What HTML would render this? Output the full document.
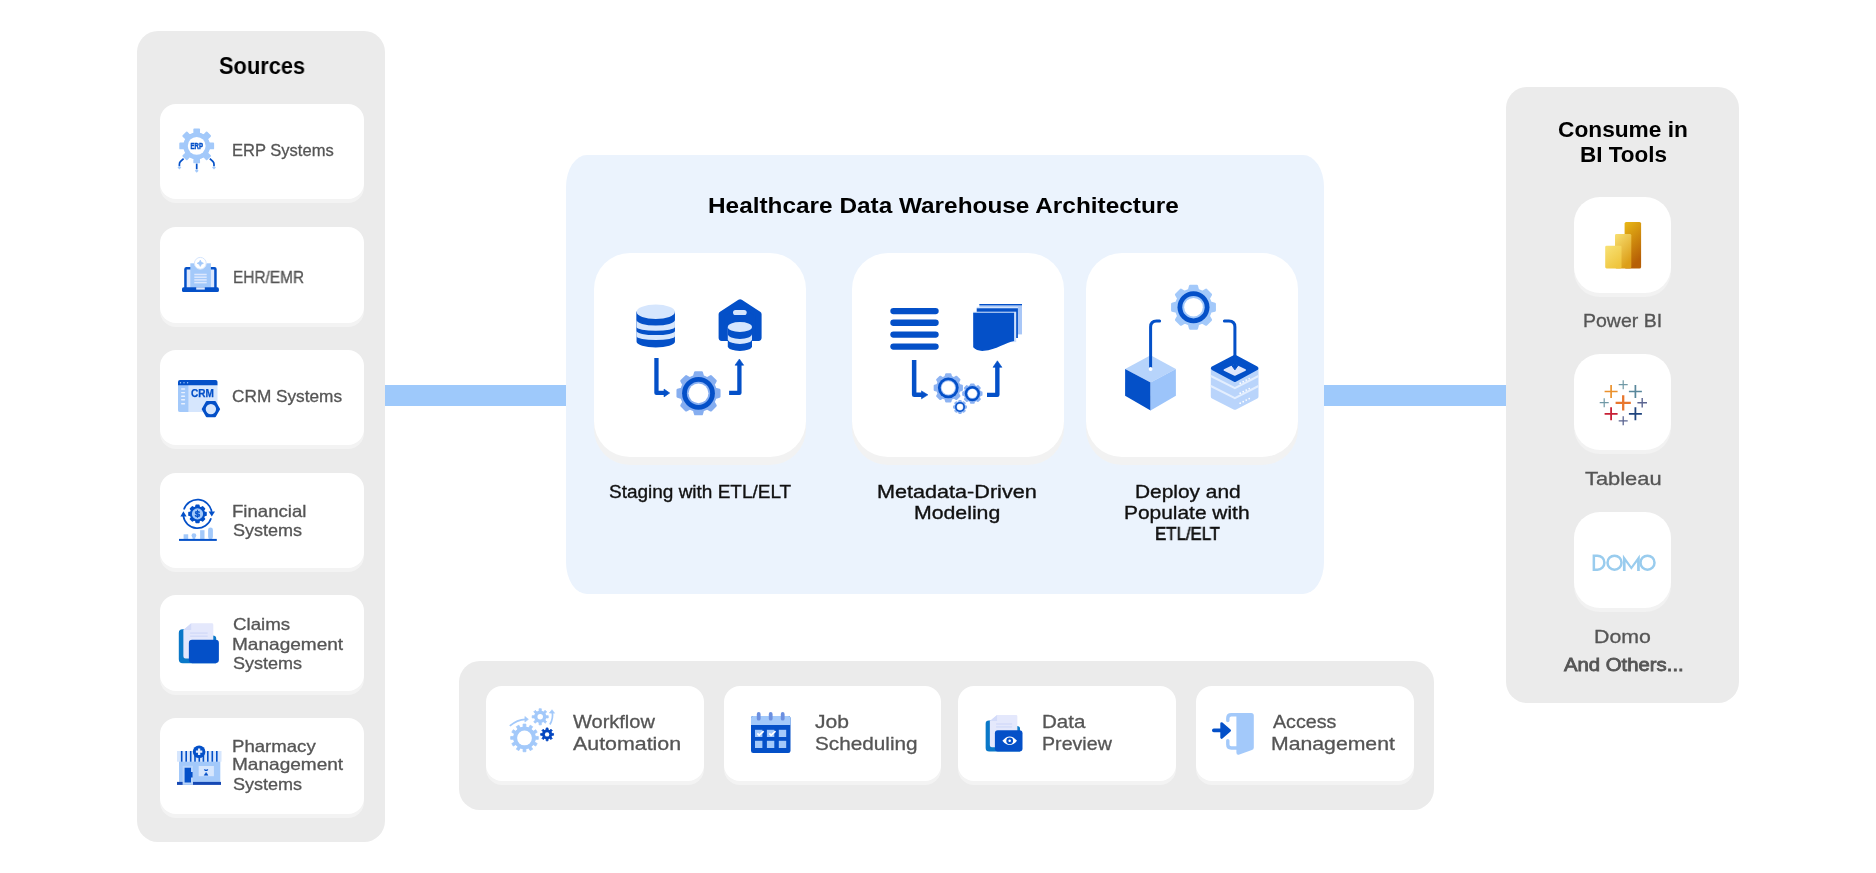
<!DOCTYPE html>
<html lang="en">
<head>
<meta charset="utf-8">
<title>Healthcare Data Warehouse Architecture</title>
<style>
  html,body{margin:0;padding:0;background:#fff;}
  body{width:1876px;height:873px;position:relative;overflow:hidden;font-family:"Liberation Sans",sans-serif;}
  .abs{position:absolute;}
  .panel{position:absolute;background:#ebebeb;border-radius:21px;}
  .card{position:absolute;background:#fff;border-radius:16px;box-shadow:0 4px 0 #f3f3f3;}
  .tile{position:absolute;background:#fff;border-radius:26px;box-shadow:0 4px 0 #f2f2f2;width:97px;height:96px;left:1574px;}
  .big{position:absolute;background:#fff;border-radius:36px;box-shadow:0 8px 0 #f2f2f2;width:212px;height:204px;top:253px;}
  .conn{position:absolute;background:#9ec9fb;height:21px;top:385px;}
  .t{position:absolute;white-space:nowrap;line-height:1;transform-origin:0 0;color:#555;will-change:transform;-webkit-text-stroke:0.3px #555;}
  .b{font-weight:bold;}
  .k{color:#000;-webkit-text-stroke:0;}
  .s{-webkit-text-stroke:0.8px #555;}
  .m{color:#111;-webkit-text-stroke:0.35px #111;}
  .x{-webkit-text-stroke-width:0.65px;}
  svg{position:absolute;overflow:visible;}
</style>
</head>
<body>

<!-- connectors -->
<div class="conn" style="left:385px;width:181px;"></div>
<div class="conn" style="left:1323px;width:184px;"></div>

<!-- left: sources panel -->
<div class="panel" style="left:137px;top:31px;width:248px;height:811px;"></div>
<div class="card" style="left:160px;top:104px;width:204px;height:95px;"></div>
<div class="card" style="left:160px;top:227px;width:204px;height:96px;"></div>
<div class="card" style="left:160px;top:350px;width:204px;height:95px;"></div>
<div class="card" style="left:160px;top:473px;width:204px;height:95px;"></div>
<div class="card" style="left:160px;top:595px;width:204px;height:96px;"></div>
<div class="card" style="left:160px;top:718px;width:204px;height:96px;"></div>

<!-- centre: warehouse panel -->
<div class="panel" style="left:565.5px;top:155px;width:758px;height:439px;background:#ebf3fd;border-radius:21px / 32px;"></div>
<div class="big" style="left:593.5px;width:212.5px;"></div>
<div class="big" style="left:852px;"></div>
<div class="big" style="left:1086px;"></div>

<!-- right: BI panel -->
<div class="panel" style="left:1506px;top:87px;width:233px;height:616px;"></div>
<div class="tile" style="top:196.5px;"></div>
<div class="tile" style="top:354px;"></div>
<div class="tile" style="top:512px;"></div>

<!-- bottom: features strip -->
<div class="panel" style="left:459px;top:661px;width:975px;height:149px;"></div>
<div class="card" style="left:486px;top:686px;width:218px;height:95px;"></div>
<div class="card" style="left:724px;top:686px;width:217px;height:95px;"></div>
<div class="card" style="left:958px;top:686px;width:218px;height:95px;"></div>
<div class="card" style="left:1196px;top:686px;width:218px;height:95px;"></div>

<!--TEXTS-->
<span class="t b k" style="left:219.1px;top:55.3px;font-size:23.0px;transform:scaleX(0.948);">Sources</span>
<span class="t" style="left:232.2px;top:141.7px;font-size:16.5px;transform:scaleX(1.002);">ERP Systems</span>
<span class="t" style="left:232.5px;top:268.7px;font-size:16.5px;transform:scaleX(0.933);">EHR/EMR</span>
<span class="t" style="left:232.4px;top:387.9px;font-size:16.5px;transform:scaleX(1.044);">CRM Systems</span>
<span class="t" style="left:232.0px;top:502.5px;font-size:16.5px;transform:scaleX(1.128);">Financial</span>
<span class="t" style="left:232.7px;top:521.6px;font-size:16.5px;transform:scaleX(1.092);">Systems</span>
<span class="t" style="left:232.6px;top:615.6px;font-size:16.5px;transform:scaleX(1.135);">Claims</span>
<span class="t" style="left:232.0px;top:635.5px;font-size:16.5px;transform:scaleX(1.154);">Management</span>
<span class="t" style="left:232.7px;top:654.6px;font-size:16.5px;transform:scaleX(1.092);">Systems</span>
<span class="t" style="left:232.2px;top:737.7px;font-size:16.5px;transform:scaleX(1.127);">Pharmacy</span>
<span class="t" style="left:232.0px;top:756.3px;font-size:16.5px;transform:scaleX(1.154);">Management</span>
<span class="t" style="left:232.7px;top:775.7px;font-size:16.5px;transform:scaleX(1.092);">Systems</span>
<span class="t b k" style="left:708.3px;top:195.1px;font-size:22.5px;transform:scaleX(1.083);">Healthcare Data Warehouse Architecture</span>
<span class="t m" style="left:609.2px;top:483.0px;font-size:18.5px;transform:scaleX(1.026);">Staging with ETL/ELT</span>
<span class="t m" style="left:876.6px;top:483.0px;font-size:18.5px;transform:scaleX(1.168);">Metadata-Driven</span>
<span class="t m" style="left:913.6px;top:503.8px;font-size:18.5px;transform:scaleX(1.149);">Modeling</span>
<span class="t m" style="left:1134.5px;top:483.0px;font-size:18.5px;transform:scaleX(1.129);">Deploy and</span>
<span class="t m" style="left:1124.3px;top:503.8px;font-size:18.5px;transform:scaleX(1.130);">Populate with</span>
<span class="t m x" style="left:1154.6px;top:525.3px;font-size:18.5px;transform:scaleX(0.909);">ETL/ELT</span>
<span class="t b k" style="left:1557.9px;top:118.6px;font-size:22.5px;transform:scaleX(1.009);">Consume in</span>
<span class="t b k" style="left:1579.7px;top:144.4px;font-size:22.5px;transform:scaleX(0.996);">BI Tools</span>
<span class="t" style="left:1583.3px;top:311.5px;font-size:18.5px;transform:scaleX(1.054);">Power BI</span>
<span class="t" style="left:1584.7px;top:469.6px;font-size:18.5px;transform:scaleX(1.182);">Tableau</span>
<span class="t" style="left:1594.0px;top:628.1px;font-size:18.5px;transform:scaleX(1.151);">Domo</span>
<span class="t s" style="left:1563.6px;top:656.3px;font-size:18.5px;transform:scaleX(1.098);">And Others...</span>
<span class="t" style="left:572.8px;top:712.9px;font-size:18.5px;transform:scaleX(1.081);">Workflow</span>
<span class="t" style="left:572.8px;top:735.3px;font-size:18.5px;transform:scaleX(1.155);">Automation</span>
<span class="t" style="left:815.4px;top:712.9px;font-size:18.5px;transform:scaleX(1.140);">Job</span>
<span class="t" style="left:814.7px;top:735.3px;font-size:18.5px;transform:scaleX(1.120);">Scheduling</span>
<span class="t" style="left:1041.9px;top:712.9px;font-size:18.5px;transform:scaleX(1.109);">Data</span>
<span class="t" style="left:1042.0px;top:735.3px;font-size:18.5px;transform:scaleX(1.061);">Preview</span>
<span class="t" style="left:1272.5px;top:712.9px;font-size:18.5px;transform:scaleX(1.063);">Access</span>
<span class="t" style="left:1270.8px;top:735.3px;font-size:18.5px;transform:scaleX(1.147);">Management</span>
<!--/TEXTS-->

<!--ICONS-->
<svg width="1876" height="873" viewBox="0 0 1876 873" style="left:0;top:0">
<!-- centre -->
<path d="M636.55 311.8 L636.55 341.4 A19.2 6.1 0 0 0 674.95 341.4 L674.95 311.8Z" fill="#0450c8"/><path d="M636.55 311.8 L636.55 336.3 A19.2 3.8 0 0 0 674.95 336.3 L674.95 311.8Z" fill="#d6e6fd"/><path d="M636.55 311.8 L636.55 331.1 A19.2 4 0 0 0 674.95 331.1 L674.95 311.8Z" fill="#0450c8"/><path d="M636.55 311.8 L636.55 327 A19.2 3.8 0 0 0 674.95 327 L674.95 311.8Z" fill="#d6e6fd"/><path d="M636.55 311.8 L636.55 320 A19.2 5.5 0 0 0 674.95 320 L674.95 311.8Z" fill="#0450c8"/><ellipse cx="655.75" cy="311.8" rx="19.2" ry="7.3" fill="#d6e6fd"/>
<path d="M740.1 302.4 L758.5 314.3 L758.5 337.8 L721.7 337.8 L721.7 314.3Z" fill="#0450c8" stroke="#0450c8" stroke-width="6.2" stroke-linejoin="round"/>
<rect x="733" y="310" width="13.7" height="5.1" rx="2.55" fill="#d6e6fd"/>
<path d="M727.8 327 L727.8 346.2 A12.1 4.8 0 0 0 752 346.2 L752 327Z" fill="#0450c8"/><path d="M727.8 327 L727.8 339.2 A12.1 4.8 0 0 0 752 339.2 L752 327Z" fill="#d6e6fd"/><path d="M727.8 327 L727.8 334.1 A12.1 4.8 0 0 0 752 334.1 L752 327Z" fill="#0450c8"/><ellipse cx="739.9" cy="327" rx="12.1" ry="4.9" fill="#d6e6fd"/>
<path d="M694.04 376.48 L695.2 372.46 L701.8 372.46 L702.96 376.48 L707.24 378.25 L710.9 376.23 L715.57 380.9 L713.55 384.56 L715.32 388.84 L719.34 390 L719.34 396.6 L715.32 397.76 L713.55 402.04 L715.57 405.7 L710.9 410.37 L707.24 408.35 L702.96 410.12 L701.8 414.14 L695.2 414.14 L694.04 410.12 L689.76 408.35 L686.1 410.37 L681.43 405.7 L683.45 402.04 L681.68 397.76 L677.66 396.6 L677.66 390 L681.68 388.84 L683.45 384.56 L681.43 380.9 L686.1 376.23 L689.76 378.25Z" fill="#86aef0" stroke="#86aef0" stroke-width="2.4" stroke-linejoin="round"/><circle cx="698.5" cy="393.3" r="17.8" fill="#86aef0"/><circle cx="698.5" cy="393.3" r="16.4" fill="#0450c8"/><circle cx="698.5" cy="393.3" r="11.6" fill="#86aef0"/><circle cx="698.5" cy="393.3" r="9.9" fill="#fff"/>
<path d="M656.45 358 V392.9 H665" fill="none" stroke="#0450c8" stroke-width="4.3" stroke-linejoin="round"/>
<path d="M664 389.1 L669.7 393 L664 396.9Z" fill="#0450c8" stroke="#0450c8" stroke-width="0.6" stroke-linejoin="round"/>
<path d="M729.1 392.9 H739.4 V364.5" fill="none" stroke="#0450c8" stroke-width="4.3" stroke-linejoin="round"/>
<path d="M735 365.2 L739.4 359 L743.7 365.2Z" fill="#0450c8" stroke="#0450c8" stroke-width="0.6" stroke-linejoin="round"/>
<rect x="890.3" y="307.9" width="48.4" height="6.3" rx="3.15" fill="#0450c8"/>
<rect x="890.3" y="319.6" width="48.4" height="6.3" rx="3.15" fill="#0450c8"/>
<rect x="890.3" y="331.45" width="48.4" height="6.3" rx="3.15" fill="#0450c8"/>
<rect x="890.3" y="343.4" width="48.4" height="6.3" rx="3.15" fill="#0450c8"/>
<rect x="979.4" y="304" width="42.6" height="30.4" fill="#a9c7f7"/>
<rect x="979.4" y="304" width="42.6" height="1.3" fill="#0450c8"/>
<rect x="976.7" y="306.8" width="41.2" height="1.7" fill="#d3e3fc"/>
<rect x="976.7" y="308.3" width="41.2" height="29.7" fill="#0450c8"/>
<rect x="973.2" y="311.7" width="43" height="30.4" fill="#cfe0fb"/>
<path d="M973.2 312.8 H1014.1 V340.9 C1006 342.5 996 349.6 984 350.8 Q976.8 351.4 973.2 347.3Z" fill="#0450c8"/>
<path d="M945.4 376.93 L946.14 374.22 L950.46 374.22 L951.2 376.93 L953.98 378.08 L956.41 376.69 L959.46 379.74 L958.07 382.17 L959.22 384.95 L961.93 385.69 L961.93 390.01 L959.22 390.75 L958.07 393.53 L959.46 395.96 L956.41 399.01 L953.98 397.62 L951.2 398.77 L950.46 401.48 L946.14 401.48 L945.4 398.77 L942.62 397.62 L940.19 399.01 L937.14 395.96 L938.53 393.53 L937.38 390.75 L934.67 390.01 L934.67 385.69 L937.38 384.95 L938.53 382.17 L937.14 379.74 L940.19 376.69 L942.62 378.08Z" fill="#8db3f2" stroke="#8db3f2" stroke-width="2.0" stroke-linejoin="round"/><circle cx="948.3" cy="387.85" r="11.7" fill="#8db3f2"/><circle cx="948.3" cy="387.85" r="10.4" fill="#0450c8"/><circle cx="948.3" cy="387.85" r="7.6" fill="#a9c5f6"/><circle cx="948.3" cy="387.85" r="6.7" fill="#fff"/>
<path d="M970.34 386.01 L970.86 384.17 L973.84 384.17 L974.36 386.01 L976.29 386.81 L977.96 385.87 L980.08 387.99 L979.14 389.66 L979.94 391.59 L981.78 392.11 L981.78 395.09 L979.94 395.61 L979.14 397.54 L980.08 399.21 L977.96 401.33 L976.29 400.39 L974.36 401.19 L973.84 403.03 L970.86 403.03 L970.34 401.19 L968.41 400.39 L966.74 401.33 L964.62 399.21 L965.56 397.54 L964.76 395.61 L962.92 395.09 L962.92 392.11 L964.76 391.59 L965.56 389.66 L964.62 387.99 L966.74 385.87 L968.41 386.81Z" fill="#8db3f2" stroke="#8db3f2" stroke-width="1.5" stroke-linejoin="round"/><circle cx="972.35" cy="393.6" r="8.25" fill="#8db3f2"/><circle cx="972.35" cy="393.6" r="7.6" fill="#0450c8"/><circle cx="972.35" cy="393.6" r="5.2" fill="#a9c5f6"/><circle cx="972.35" cy="393.6" r="4.5" fill="#fff"/>
<path d="M958.68 402.02 L958.99 400.63 L961.01 400.63 L961.32 402.02 L962.59 402.55 L963.79 401.78 L965.22 403.21 L964.45 404.41 L964.98 405.68 L966.37 405.99 L966.37 408.01 L964.98 408.32 L964.45 409.59 L965.22 410.79 L963.79 412.22 L962.59 411.45 L961.32 411.98 L961.01 413.37 L958.99 413.37 L958.68 411.98 L957.41 411.45 L956.21 412.22 L954.78 410.79 L955.55 409.59 L955.02 408.32 L953.63 408.01 L953.63 405.99 L955.02 405.68 L955.55 404.41 L954.78 403.21 L956.21 401.78 L957.41 402.55Z" fill="#8db3f2" stroke="#8db3f2" stroke-width="1.1" stroke-linejoin="round"/><circle cx="960" cy="407" r="5.55" fill="#8db3f2"/><circle cx="960" cy="407" r="4.95" fill="#0450c8"/><circle cx="960" cy="407" r="3.4" fill="#a9c5f6"/><circle cx="960" cy="407" r="2.9" fill="#fff"/>
<path d="M914.15 360.1 V394.85 H923" fill="none" stroke="#0450c8" stroke-width="4.5" stroke-linejoin="round"/>
<path d="M921.5 390.9 L927.9 394.85 L921.5 398.8Z" fill="#0450c8" stroke="#0450c8" stroke-width="0.6" stroke-linejoin="round"/>
<path d="M987 394.85 H997.35 V366.5" fill="none" stroke="#0450c8" stroke-width="4.4" stroke-linejoin="round"/>
<path d="M993 367.3 L997.4 360.8 L1001.9 367.3Z" fill="#0450c8" stroke="#0450c8" stroke-width="0.6" stroke-linejoin="round"/>
<path d="M1188.99 290.19 L1190.14 285.96 L1196.86 285.96 L1198.01 290.19 L1202.34 291.98 L1206.14 289.81 L1210.89 294.56 L1208.72 298.36 L1210.51 302.69 L1214.74 303.84 L1214.74 310.56 L1210.51 311.71 L1208.72 316.04 L1210.89 319.84 L1206.14 324.59 L1202.34 322.42 L1198.01 324.21 L1196.86 328.44 L1190.14 328.44 L1188.99 324.21 L1184.66 322.42 L1180.86 324.59 L1176.11 319.84 L1178.28 316.04 L1176.49 311.71 L1172.26 310.56 L1172.26 303.84 L1176.49 302.69 L1178.28 298.36 L1176.11 294.56 L1180.86 289.81 L1184.66 291.98Z" fill="#a3c9fa" stroke="#a3c9fa" stroke-width="2.4" stroke-linejoin="round"/><circle cx="1193.5" cy="307.2" r="18" fill="#a3c9fa"/><circle cx="1193.5" cy="307.2" r="16" fill="#0450c8"/><circle cx="1193.5" cy="307.2" r="11.2" fill="#a3c9fa"/><circle cx="1193.5" cy="307.2" r="9.3" fill="#fff"/>
<path d="M1150.6 355.3 L1175.9 369 L1150.6 382.6 L1125.1 369Z" fill="#b7d4fb"/>
<path d="M1125.1 369 L1150.6 382.6 V410.6 L1125.1 395.7Z" fill="#0450c8"/>
<path d="M1175.9 369 L1150.6 382.6 V410.6 L1175.9 395.7Z" fill="#9cc4fa"/>
<path d="M1159.6 320.9 H1156.6 Q1150.6 320.9 1150.6 326.9 V368" fill="none" stroke="#0450c8" stroke-width="3" stroke-linecap="round"/>
<circle cx="1150.6" cy="369" r="1.9" fill="#fff"/>
<path d="M1210.8 368 L1210.8 396.6 Q1210.8 398 1212 398.6 L1233.6 409.4 Q1234.9 410 1236.2 409.4 L1257.3 398.6 Q1258.5 398 1258.5 396.6 L1258.5 368Z" fill="#b9d4fb"/>
<path d="M1210.8 376 L1234.9 388.2 L1258.5 376" fill="none" stroke="#e3eefe" stroke-width="2"/>
<path d="M1210.8 386 L1234.9 398.2 L1258.5 386" fill="none" stroke="#e3eefe" stroke-width="2"/>
<circle cx="1240.2" cy="383.2" r="0.85" fill="#fff"/>
<circle cx="1243.2" cy="381.65" r="0.85" fill="#fff"/>
<circle cx="1246.2" cy="380.1" r="0.85" fill="#fff"/>
<circle cx="1249.2" cy="378.55" r="0.85" fill="#fff"/>
<circle cx="1240.2" cy="393.2" r="0.85" fill="#fff"/>
<circle cx="1243.2" cy="391.65" r="0.85" fill="#fff"/>
<circle cx="1246.2" cy="390.1" r="0.85" fill="#fff"/>
<circle cx="1249.2" cy="388.55" r="0.85" fill="#fff"/>
<circle cx="1240.2" cy="403.2" r="0.85" fill="#fff"/>
<circle cx="1243.2" cy="401.65" r="0.85" fill="#fff"/>
<circle cx="1246.2" cy="400.1" r="0.85" fill="#fff"/>
<circle cx="1249.2" cy="398.55" r="0.85" fill="#fff"/>
<path d="M1234.9 356.8 L1256.4 368.2 L1234.9 380 L1212.9 368.2Z" fill="#0450c8" stroke="#0450c8" stroke-width="4" stroke-linejoin="round"/>
<path d="M1234.8 364.9 L1245.2 370 L1234.8 375 L1224.4 370Z" fill="#dfe6fb" stroke="#dfe6fb" stroke-width="1.6" stroke-linejoin="round"/>
<path d="M1224.4 320.9 H1228.9 Q1234.9 320.9 1234.9 326.9 V366" fill="none" stroke="#0450c8" stroke-width="3" stroke-linecap="round"/>
<path d="M1231.6 365.2 L1234.9 369.8 L1238.2 365.2Z" fill="#0450c8" stroke="#0450c8" stroke-width="1" stroke-linejoin="round"/>
<!-- left -->
<path d="M194.32 133.42 L194.22 129.39 L199.18 129.39 L199.08 133.42 L203.84 135.4 L206.62 132.47 L210.13 135.98 L207.2 138.76 L209.18 143.52 L213.21 143.42 L213.21 148.38 L209.18 148.28 L207.2 153.04 L210.13 155.82 L206.62 159.33 L203.84 156.4 L199.08 158.38 L199.18 162.41 L194.22 162.41 L194.32 158.38 L189.56 156.4 L186.78 159.33 L183.27 155.82 L186.2 153.04 L184.22 148.28 L180.19 148.38 L180.19 143.42 L184.22 143.52 L186.2 138.76 L183.27 135.98 L186.78 132.47 L189.56 135.4Z" fill="#a3c9fa" stroke="#a3c9fa" stroke-width="1.8" stroke-linejoin="round"/><circle cx="196.7" cy="145.9" r="13.1" fill="#a3c9fa"/><circle cx="196.7" cy="145.9" r="8.9" fill="#fff"/>
<text x="196.7" y="149.1" font-family="Liberation Sans, sans-serif" font-weight="bold" font-size="8.6" text-anchor="middle" fill="#0450c8" stroke="#0450c8" stroke-width="0.45" textLength="12.4" lengthAdjust="spacingAndGlyphs">ERP</text>
<path d="M196.7 163.6 V169.3" stroke="#0450c8" stroke-width="1.7" fill="none"/>
<path d="M183.6 158.6 L180.6 161.4 Q179.4 162.6 179.4 164.2 V166.2" stroke="#0450c8" stroke-width="1.7" fill="none"/>
<path d="M209.8 158.6 L212.8 161.4 Q214 162.6 214 164.2 V166.2" stroke="#0450c8" stroke-width="1.7" fill="none"/>
<path d="M196.7 168.9 L198.6 170.8 L196.7 172.70000000000002 L194.79999999999998 170.8Z" fill="#a3c9fa"/>
<path d="M179.4 165.7 L181.3 167.6 L179.4 169.5 L177.5 167.6Z" fill="#a3c9fa"/>
<path d="M214 165.7 L215.9 167.6 L214 169.5 L212.1 167.6Z" fill="#a3c9fa"/>
<rect x="185.45" y="268.15" width="30" height="21" rx="1" fill="#dde8fd" stroke="#0450c8" stroke-width="2.5"/>
<rect x="190.3" y="263.3" width="20.6" height="24.2" fill="#a3c9fa"/>
<rect x="182" y="287.3" width="36.9" height="4.7" rx="1.6" fill="#0450c8"/>
<rect x="196.2" y="287.3" width="8.6" height="2.3" fill="#dde8fd"/>
<rect x="194.3" y="273.75" width="12.4" height="1.5" fill="#dde8fd"/>
<rect x="194.3" y="276.45" width="12.4" height="1.5" fill="#dde8fd"/>
<rect x="194.3" y="279.15" width="12.4" height="1.5" fill="#dde8fd"/>
<rect x="194.3" y="281.85" width="12.4" height="1.5" fill="#dde8fd"/>
<circle cx="200.3" cy="263.3" r="5.9" fill="#fff" stroke="#d5e5fd" stroke-width="1"/>
<path d="M200.3 260.2 Q200.7 262.9 203.4 263.3 Q200.7 263.7 200.3 266.4 Q199.9 263.7 197.2 263.3 Q199.9 262.9 200.3 260.2Z" fill="#a3c9fa" stroke="#a3c9fa" stroke-width="0.8"/>
<path d="M178 385 H217.5 V409.9 Q217.5 411.9 215.5 411.9 H180 Q178 411.9 178 409.9Z" fill="#d6e6fd"/>
<path d="M178 385 H188.4 V411.9 H180 Q178 411.9 178 409.9Z" fill="#a3c9fa"/>
<path d="M180 380 H215.5 Q217.5 380 217.5 382 V385.3 H178 V382 Q178 380 180 380Z" fill="#0450c8"/>
<circle cx="180.5" cy="382.7" r="0.7" fill="#a3c9fa"/>
<circle cx="184" cy="382.7" r="0.7" fill="#a3c9fa"/>
<circle cx="187.6" cy="382.7" r="0.7" fill="#a3c9fa"/>
<rect x="181" y="388.3" width="4.2" height="1.4" rx="0.7" fill="#e9f1fe"/>
<rect x="181" y="391.90000000000003" width="4.2" height="1.4" rx="0.7" fill="#e9f1fe"/>
<rect x="181" y="395.6" width="4.2" height="1.4" rx="0.7" fill="#e9f1fe"/>
<rect x="181" y="399.1" width="4.2" height="1.4" rx="0.7" fill="#e9f1fe"/>
<rect x="181" y="403.0" width="4.2" height="1.4" rx="0.7" fill="#e9f1fe"/>
<text x="191.1" y="397.4" font-family="Liberation Sans, sans-serif" font-weight="bold" font-size="10.6" fill="#0450c8" stroke="#0450c8" stroke-width="0.25" textLength="22.9" lengthAdjust="spacingAndGlyphs">CRM</text>
<path d="M219.2 409.1 L215.05 416.29 L206.75 416.29 L202.6 409.1 L206.75 401.91 L215.05 401.91Z" fill="#0450c8" stroke="#0450c8" stroke-width="1.8" stroke-linejoin="round"/>
<circle cx="210.9" cy="409.1" r="5.2" fill="#d6e6fd"/>
<path d="M195.73 507.23 L196.07 505.32 L198.93 505.32 L199.27 507.23 L200.97 507.93 L202.56 506.82 L204.58 508.84 L203.47 510.43 L204.17 512.13 L206.08 512.47 L206.08 515.33 L204.17 515.67 L203.47 517.37 L204.58 518.96 L202.56 520.98 L200.97 519.87 L199.27 520.57 L198.93 522.48 L196.07 522.48 L195.73 520.57 L194.03 519.87 L192.44 520.98 L190.42 518.96 L191.53 517.37 L190.83 515.67 L188.92 515.33 L188.92 512.47 L190.83 512.13 L191.53 510.43 L190.42 508.84 L192.44 506.82 L194.03 507.93Z" fill="#0450c8" stroke="#0450c8" stroke-width="1.4" stroke-linejoin="round"/><circle cx="197.5" cy="513.9" r="7.3" fill="#0450c8"/>
<circle cx="197.5" cy="513.9" r="5.6" fill="#a3c9fa"/>
<text x="197.5" y="517.4" font-family="Liberation Sans, sans-serif" font-weight="bold" font-size="9.6" text-anchor="middle" fill="#0450c8" stroke="#0450c8" stroke-width="0.4">$</text>
<path d="M183.9 509.48 A14.3 14.3 0 0 1 211.66 511.91" fill="none" stroke="#0450c8" stroke-width="1.7"/>
<path d="M211.1 518.32 A14.3 14.3 0 0 1 183.34 515.89" fill="none" stroke="#0450c8" stroke-width="1.7"/>
<path d="M208.6 511.4 H215 L211.8 516.6Z" fill="#0450c8"/>
<path d="M180.4 516.4 H186.6 L183.4 511.2Z" fill="#0450c8"/>
<rect x="183.6" y="534.3" width="4.6" height="5" fill="#a3c9fa"/>
<circle cx="193.9" cy="535.6" r="2.4" fill="#a3c9fa"/><rect x="192.6" y="536" width="2.6" height="3.2" fill="#a3c9fa"/>
<rect x="200.1" y="530.2" width="4.4" height="9" fill="#a3c9fa"/>
<rect x="208.1" y="527.4" width="4.8" height="12" rx="2.4" fill="#a3c9fa"/>
<rect x="179" y="538.9" width="37.8" height="2" fill="#0450c8"/>
<path d="M182.39 629.35 H211.44 V635.39 H212.75 Q216.23 635.39 216.23 638.43 V663.13 H182.72 Q178.8 663.13 178.8 659.21 V632.88 Q178.8 629.35 182.39 629.35Z" fill="#0a78c8"/>
<path d="M191.2 623.2 H211.88 Q213.29 623.2 213.29 624.61 V644.96 H191.86 V658.45 H185.55 Q183.37 658.45 183.37 656.28 V629.95Z" fill="#e4e8fc"/>
<path d="M191.2 623.2 V629.95 H183.37Z" fill="#d3dbf9"/>
<rect x="190.12" y="632.34" width="17.52" height="1.52" fill="#d3dbf9"/>
<rect x="190.12" y="635.49" width="17.52" height="1.52" fill="#d3dbf9"/>
<rect x="188.86" y="639.85" width="30.03" height="23.28" rx="3.26" fill="#0450c8"/>
<rect x="179" y="761" width="41.3" height="21.5" fill="#a3c9fa"/>
<rect x="177" y="751" width="44.5" height="10.7" fill="#d6e6fd"/>
<rect x="180.89999999999998" y="751" width="1.6" height="10.7" fill="#0450c8"/>
<rect x="185.39999999999998" y="751" width="1.6" height="10.7" fill="#0450c8"/>
<rect x="189.89999999999998" y="751" width="1.6" height="10.7" fill="#0450c8"/>
<rect x="194.2" y="751" width="1.6" height="10.7" fill="#0450c8"/>
<rect x="198.5" y="751" width="1.6" height="10.7" fill="#0450c8"/>
<rect x="202.6" y="751" width="1.6" height="10.7" fill="#0450c8"/>
<rect x="207.0" y="751" width="1.6" height="10.7" fill="#0450c8"/>
<rect x="211.5" y="751" width="1.6" height="10.7" fill="#0450c8"/>
<rect x="216.0" y="751" width="1.6" height="10.7" fill="#0450c8"/>
<rect x="177" y="781.9" width="44" height="3" fill="#1548b4"/>
<rect x="182.6" y="765.8" width="10.4" height="19.1" fill="#b9d5fb"/>
<path d="M184.6 767.7 H191 V772 H192.6 V777.6 H191 V782.6 H184.6Z" fill="#0450c8"/>
<rect x="198.7" y="766" width="15.2" height="10.2" fill="#d6e6fd"/>
<path d="M203.9 769 L206.1 769.8 L208.3 769 L207.4 771 H204.8Z" fill="#0450c8"/><path d="M206.1 772.4 L208 775.3 H204.2Z" fill="#0450c8" stroke="#0450c8" stroke-width="0.5" stroke-linejoin="round"/>
<circle cx="199.1" cy="751.7" r="6.3" fill="#0450c8"/>
<path d="M199.1 748.5 V754.9 M195.9 751.7 H202.3" stroke="#e4edfe" stroke-width="2.3" fill="none"/>
<!-- right -->
<defs><linearGradient id="pb1" x1="0" y1="0" x2="0.35" y2="1"><stop offset="0" stop-color="#e9b916"/><stop offset="1" stop-color="#b65f06"/></linearGradient><linearGradient id="pb2" x1="0" y1="0" x2="0.5" y2="1"><stop offset="0" stop-color="#f8e073"/><stop offset="1" stop-color="#dc9e18"/></linearGradient><linearGradient id="pb3" x1="0" y1="0" x2="0.6" y2="1"><stop offset="0" stop-color="#f8e276"/><stop offset="1" stop-color="#efc53e"/></linearGradient></defs>
<rect x="1624.6" y="222" width="16.5" height="46.5" rx="1.6" fill="url(#pb1)"/>
<rect x="1615" y="233.9" width="16.3" height="34.6" rx="1.4" fill="url(#pb2)"/>
<rect x="1605.2" y="245.7" width="16.3" height="22.8" rx="1.4" fill="url(#pb3)"/>
<path d="M1615.6 402.9 H1630.8 M1623.2 395.3 V410.5" stroke="#e8762d" stroke-width="2.3" fill="none"/>
<path d="M1618.7 384.7 H1627.7 M1623.2 380.2 V389.2" stroke="#7099a6" stroke-width="1.2" fill="none"/>
<path d="M1618.7 420.8 H1627.7 M1623.2 416.3 V425.3" stroke="#5b6591" stroke-width="1.3" fill="none"/>
<path d="M1599.7 402.7 H1608.7 M1604.2 398.2 V407.2" stroke="#7099a6" stroke-width="1.2" fill="none"/>
<path d="M1637.4 402.7 H1647 M1642.2 397.9 V407.5" stroke="#5b6591" stroke-width="1.4" fill="none"/>
<path d="M1604.6 391.5 H1617.6 M1611.1 385 V398" stroke="#eb912c" stroke-width="1.7" fill="none"/>
<path d="M1628.9 391.5 H1641.9 M1635.4 385 V398" stroke="#59879b" stroke-width="1.7" fill="none"/>
<path d="M1604.6 413.8 H1617.6 M1611.1 407.3 V420.3" stroke="#c72035" stroke-width="1.8" fill="none"/>
<path d="M1628.9 413.8 H1641.9 M1635.4 407.3 V420.3" stroke="#1f447e" stroke-width="1.8" fill="none"/>
<g fill="none" stroke="#99ccee" stroke-width="2.5"><path d="M1593.85 555.65 H1597.4 A7 7 0 0 1 1597.4 569.65 H1593.85Z"/><circle cx="1614.5" cy="562.65" r="7"/><circle cx="1647.5" cy="562.65" r="7"/></g>
<path d="M1622.9 570.9 V554.6 L1631.35 566.2 L1639.8 554.6 V570.9 H1637.1 V561.9 L1631.35 569.8 L1625.6 561.9 V570.9Z" fill="#99ccee"/>
<!-- bottom -->
<path d="M523.09 727.19 L523.05 724.08 L525.95 724.08 L525.91 727.19 L528.63 727.92 L530.15 725.2 L532.67 726.65 L531.07 729.33 L533.07 731.33 L535.75 729.73 L537.2 732.25 L534.48 733.77 L535.21 736.49 L538.32 736.45 L538.32 739.35 L535.21 739.31 L534.48 742.03 L537.2 743.55 L535.75 746.07 L533.07 744.47 L531.07 746.47 L532.67 749.15 L530.15 750.6 L528.63 747.88 L525.91 748.61 L525.95 751.72 L523.05 751.72 L523.09 748.61 L520.37 747.88 L518.85 750.6 L516.33 749.15 L517.93 746.47 L515.93 744.47 L513.25 746.07 L511.8 743.55 L514.52 742.03 L513.79 739.31 L510.68 739.35 L510.68 736.45 L513.79 736.49 L514.52 733.77 L511.8 732.25 L513.25 729.73 L515.93 731.33 L517.93 729.33 L516.33 726.65 L518.85 725.2 L520.37 727.92Z" fill="#a3c9fa" stroke="#a3c9fa" stroke-width="0.8" stroke-linejoin="round"/><circle cx="524.5" cy="737.9" r="11.2" fill="#a3c9fa"/><circle cx="524.5" cy="737.9" r="7.4" fill="#fff"/>
<path d="M539.11 711.31 L539.06 708.78 L541.34 708.78 L541.29 711.31 L543.31 712.14 L545.06 710.32 L546.68 711.94 L544.86 713.69 L545.69 715.71 L548.22 715.66 L548.22 717.94 L545.69 717.89 L544.86 719.91 L546.68 721.66 L545.06 723.28 L543.31 721.46 L541.29 722.29 L541.34 724.82 L539.06 724.82 L539.11 722.29 L537.09 721.46 L535.34 723.28 L533.72 721.66 L535.54 719.91 L534.71 717.89 L532.18 717.94 L532.18 715.66 L534.71 715.71 L535.54 713.69 L533.72 711.94 L535.34 710.32 L537.09 712.14Z" fill="#a3c9fa" stroke="#a3c9fa" stroke-width="0.8" stroke-linejoin="round"/><circle cx="540.2" cy="716.8" r="6" fill="#a3c9fa"/><circle cx="540.2" cy="716.8" r="2.75" fill="#fff"/>
<path d="M546.12 730.01 L546.18 727.96 L548.02 727.96 L548.08 730.01 L549.51 730.6 L551 729.2 L552.3 730.5 L550.9 731.99 L551.49 733.42 L553.54 733.48 L553.54 735.32 L551.49 735.38 L550.9 736.81 L552.3 738.3 L551 739.6 L549.51 738.2 L548.08 738.79 L548.02 740.84 L546.18 740.84 L546.12 738.79 L544.69 738.2 L543.2 739.6 L541.9 738.3 L543.3 736.81 L542.71 735.38 L540.66 735.32 L540.66 733.48 L542.71 733.42 L543.3 731.99 L541.9 730.5 L543.2 729.2 L544.69 730.6Z" fill="#0446c0" stroke="#0446c0" stroke-width="0.8" stroke-linejoin="round"/><circle cx="547.1" cy="734.4" r="4.9" fill="#0446c0"/><circle cx="547.1" cy="734.4" r="2.2" fill="#fff"/>
<path d="M509.8 725.9 Q517 719.6 525.6 719.3" fill="none" stroke="#a3c9fa" stroke-width="1.7"/>
<path d="M524.9 716.5 L528.4 719.3 L524.9 722.1Z" fill="#a3c9fa" stroke="#a3c9fa" stroke-width="0.6" stroke-linejoin="round"/>
<path d="M549.9 724.5 Q553.6 718.2 552.2 712" fill="none" stroke="#a3c9fa" stroke-width="1.7"/>
<path d="M549.3 713 L552 709.7 L554.6 713.2Z" fill="#a3c9fa" stroke="#a3c9fa" stroke-width="0.6" stroke-linejoin="round"/>
<rect x="751" y="715.9" width="39.5" height="37.1" rx="2.2" fill="#0450c8"/>
<path d="M753.2 715.9 H788.3 Q790.5 715.9 790.5 718.1 V725 H751 V718.1 Q751 715.9 753.2 715.9Z" fill="#a3c9fa"/>
<rect x="756.8" y="712" width="3.8" height="8.6" rx="1.9" fill="#6b8fe0"/>
<rect x="768.8" y="712" width="3.8" height="8.6" rx="1.9" fill="#6b8fe0"/>
<rect x="780.8" y="712" width="3.8" height="8.6" rx="1.9" fill="#6b8fe0"/>
<rect x="755" y="729.8" width="7.4" height="7.2" fill="#a3c9fa"/>
<rect x="755" y="740.8" width="7.4" height="7.2" fill="#a3c9fa"/>
<rect x="766.9" y="729.8" width="7.4" height="7.2" fill="#a3c9fa"/>
<rect x="766.9" y="740.8" width="7.4" height="7.2" fill="#a3c9fa"/>
<rect x="778.8" y="729.8" width="7.4" height="7.2" fill="#a3c9fa"/>
<rect x="778.8" y="740.8" width="7.4" height="7.2" fill="#a3c9fa"/>
<path d="M757.4 733.4 L759.2 735.4 L763.6 731.2" fill="none" stroke="#fff" stroke-width="1.7"/>
<path d="M769.3 733.4 L771.1 735.4 L775.5 731.2" fill="none" stroke="#fff" stroke-width="1.7"/>
<path d="M988.95 720.55 H1015.65 V726.1 H1016.85 Q1020.05 726.1 1020.05 728.9 V751.6 H989.25 Q985.65 751.6 985.65 748 V723.8 Q985.65 720.55 988.95 720.55Z" fill="#0a78c8"/>
<path d="M997.05 714.9 H1016.05 Q1017.35 714.9 1017.35 716.2 V734.9 H997.65 V747.3 H991.85 Q989.85 747.3 989.85 745.3 V721.1Z" fill="#e4e8fc"/>
<path d="M997.05 714.9 V721.1 H989.85Z" fill="#d3dbf9"/>
<rect x="996.05" y="723.3" width="16.1" height="1.4" fill="#d3dbf9"/>
<rect x="996.05" y="726.2" width="16.1" height="1.4" fill="#d3dbf9"/>
<rect x="994.9" y="730.2" width="27.6" height="21.4" rx="3" fill="#0450c8"/>
<path d="M1002.4 740.8 Q1009.7 732.2 1017 740.8 Q1009.7 749.4 1002.4 740.8Z" fill="#fff"/>
<circle cx="1009.7" cy="740.8" r="3.4" fill="#0450c8"/><circle cx="1009.7" cy="740.8" r="1.25" fill="#fff"/>
<path d="M1227.8 720.5 V718.2 Q1227.8 714.7 1231.3 714.7 H1238" fill="none" stroke="#a3c9fa" stroke-width="3.4" stroke-linecap="round"/>
<path d="M1227.8 740.6 V744.5 Q1227.8 748 1231.3 748 H1238" fill="none" stroke="#a3c9fa" stroke-width="3.4" stroke-linecap="round"/>
<path d="M1239 713 H1251.2 Q1253.8 713 1253.8 715.6 V747.4 Q1253.8 749.4 1251.9 750 L1239.4 754.6 Q1236.4 755.6 1236.4 752.4 V715.6 Q1236.4 713 1239 713Z" fill="#a3c9fa"/>
<path d="M1213.8 730.4 H1222" fill="none" stroke="#0450c8" stroke-width="3.6" stroke-linecap="round"/>
<path d="M1221.6 723.5 L1229.7 730.4 L1221.6 737.5Z" fill="#0450c8" stroke="#0450c8" stroke-width="2.6" stroke-linejoin="round"/>
</svg>
<!--/ICONS-->

</body>
</html>
